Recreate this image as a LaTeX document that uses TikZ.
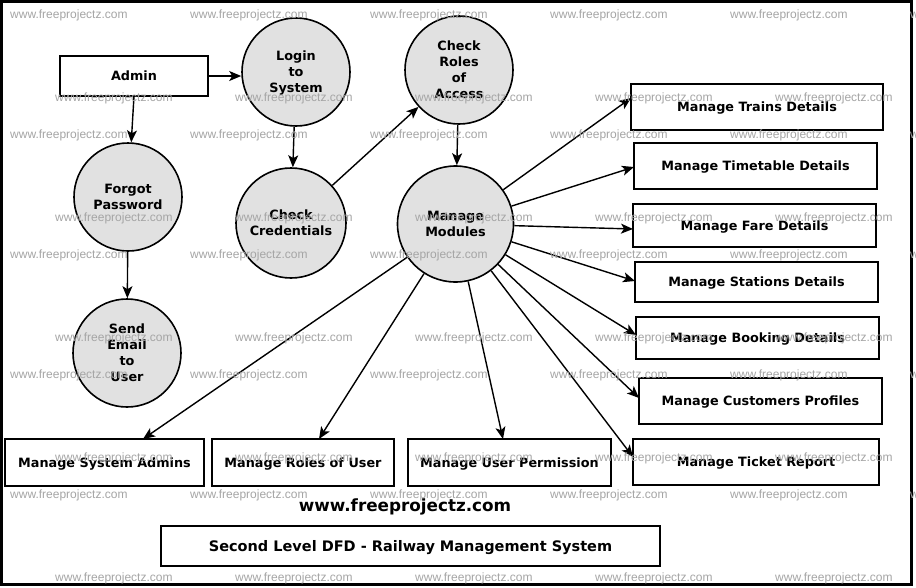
\documentclass[tikz,border=0pt]{standalone}
\usepackage{fontspec}
\setmainfont{DejaVu Sans}
\newfontfamily\wmfont{Liberation Sans}
\usetikzlibrary{arrows.meta}
\definecolor{procgray}{RGB}{225,225,225}
\definecolor{wmgray}{RGB}{165,165,165}
\tikzset{
  lbl/.style={font=\fontsize{12.8}{16}\selectfont\bfseries, align=center, text depth=0pt},
  proc/.style={circle, draw, line width=1.6pt, fill=procgray, inner sep=0pt, lbl},
  ent/.style={draw, line width=1.6pt, inner sep=0pt, outer sep=0pt, lbl},
  arr/.style={line width=1.4pt, -{Stealth[length=12pt,width=10pt,inset=3pt]}},
  wm/.style={anchor=west, inner sep=0pt, text=wmgray, font=\wmfont\fontsize{12}{12}\selectfont}
}
\begin{document}
\begin{tikzpicture}[x=1pt,y=-1pt]
\useasboundingbox (0,0) rectangle (916,587);
\fill[white] (0,0) rectangle (916,587);
\draw[line width=3pt] (1.5,1.5) rectangle (911.5,584);

% processes
\node[proc, minimum size=108pt] (login) at (296,72) {Login\\to\\System};
\node[proc, minimum size=108pt] (cra) at (459,70) {Check\\Roles\\of\\Access};
\node[proc, minimum size=108pt] (forgot) at (128,197) {Forgot\\Password};
\node[proc, minimum size=110pt] (cred) at (291,223) {Check\\Credentials};
\node[proc, minimum size=116pt] (mm) at (455.5,224) {Manage\\Modules};
\node[proc, minimum size=108pt] (email) at (127,353) {Send\\Email\\to\\User};

% entities
\node[ent, minimum width=148pt, minimum height=40pt] (admin) at (134,76) {Admin};
\node[ent, minimum width=252pt, minimum height=46pt] (trains) at (757,107) {Manage Trains Details};
\node[ent, minimum width=243pt, minimum height=46pt] (timetable) at (755.5,166) {Manage Timetable Details};
\node[ent, minimum width=243pt, minimum height=43pt] (fare) at (754.5,225.5) {Manage Fare Details};
\node[ent, minimum width=243pt, minimum height=40pt] (stations) at (756.5,282) {Manage Stations Details};
\node[ent, minimum width=243pt, minimum height=42pt] (booking) at (757.5,338) {Manage Booking Details};
\node[ent, minimum width=243pt, minimum height=46pt] (customers) at (760.5,401) {Manage Customers Profiles};
\node[ent, minimum width=246pt, minimum height=46pt] (ticket) at (756,462) {Manage Ticket Report};
\node[ent, minimum width=199pt, minimum height=47pt] (sysadmins) at (104.5,462.5) {Manage System Admins};
\node[ent, minimum width=182pt, minimum height=47pt] (roles) at (303,462.5) {Manage Roles of User};
\node[ent, minimum width=203pt, minimum height=47pt] (perm) at (509.5,462.5) {Manage User Permission};
\node[ent, minimum width=499pt, minimum height=40pt, font=\fontsize{14.5}{16}\selectfont\bfseries] (caption) at (410.5,546) {Second Level DFD - Railway Management System};
\node[inner sep=0pt, text depth=0pt, font=\fontsize{16.8}{18}\selectfont\bfseries] (url) at (405,505) {www.freeprojectz.com};

% connectors
\draw[arr] (admin.east) -- (admin.east -| login.west);
\draw[arr] (admin.south) -- (forgot);
\draw[arr] (login) -- (cred);
\draw[arr] (cred) -- (cra);
\draw[arr] (cra) -- (mm);
\draw[arr] (forgot) -- (email);
\draw[arr] (mm) -- ([yshift=9pt]trains.west);
\draw[arr] (mm) -- ([yshift=-1pt]timetable.west);
\draw[arr] (mm) -- ([yshift=-3.5pt]fare.west);
\draw[arr] (mm) -- ([yshift=1pt]stations.west);
\draw[arr] (mm) -- ([yshift=3pt]booking.west);
\draw[arr] (mm) -- ([yshift=3pt]customers.west);
\draw[arr] (mm) -- ([yshift=5pt]ticket.west);
\draw[arr] (mm) -- ([xshift=38.5pt]sysadmins.north);
\draw[arr] (mm) -- ([xshift=16pt]roles.north);
\draw[arr] (mm) -- ([xshift=-6.5pt]perm.north);

% watermarks
\foreach \yy [count=\r] in {15,135,255,375,495}
  \foreach \xx [count=\c] in {10,190,370,550,730,910}
    \node[wm] (wma\r\c) at (\xx,\yy) {www.freeprojectz.com};
\foreach \yy [count=\r] in {98,218,338,458,578}
  \foreach \xx [count=\c] in {55,235,415,595,775}
    \node[wm] (wmb\r\c) at (\xx,\yy) {www.freeprojectz.com};
\end{tikzpicture}
\end{document}
